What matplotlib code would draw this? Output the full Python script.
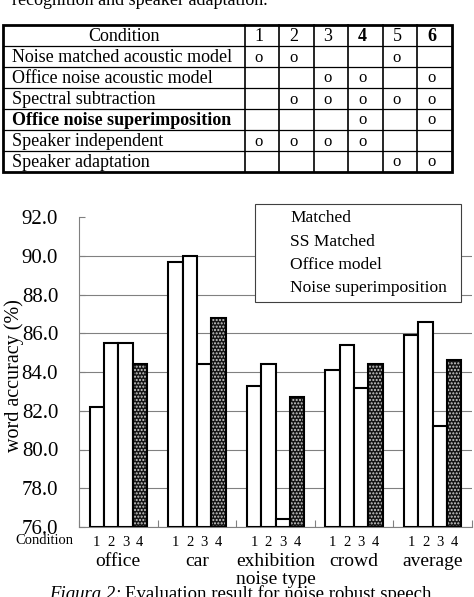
import matplotlib
matplotlib.use("Agg")
import matplotlib.pyplot as plt
from matplotlib.patches import Rectangle
from matplotlib.transforms import blended_transform_factory
import numpy as np

plt.rcParams['font.family'] = ['Liberation Serif', 'DejaVu Serif']

# --- données du gráfico ---
noise_types = ["office", "car", "exhibition", "crowd", "average"]
series_names = ["Matched", "SS Matched", "Office model", "Noise superimposition"]
matched = [82.2, 89.7, 83.3, 84.1, 85.9]
ss_matched = [85.5, 90.0, 84.4, 85.4, 86.6]
office_model = [85.5, 84.4, 76.4, 83.2, 81.2]
noise_superimp = [84.4, 86.8, 82.7, 84.4, 84.6]
condition_labels = ["1", "2", "3", "4"]
y_ticks = [76, 78, 80, 82, 84, 86, 88, 90, 92]

# --- dados da tabela ---
table_header = ["Condition", "1", "2", "3", "4", "5", "6"]
table_rows = ["Noise matched acoustic model",
              "Office noise acoustic model",
              "Spectral subtraction",
              "Office noise superimposition",
              "Speaker independent",
              "Speaker adaptation"]
table_marks = [[1, 1, 0, 0, 1, 0],
               [0, 0, 1, 1, 0, 1],
               [0, 1, 1, 1, 1, 1],
               [0, 0, 0, 1, 0, 1],
               [1, 1, 1, 1, 0, 0],
               [0, 0, 0, 0, 1, 1]]
bold_header = ["4", "6"]
bold_row = "Office noise superimposition"

W, H = 474, 597
fig = plt.figure(figsize=(W / 100, H / 100), dpi=100)

# eixo principal (pixels -> fração)
ax_l, ax_r, ax_t, ax_b = 79, 472, 217, 527
ax = fig.add_axes([ax_l / W, 1 - ax_b / H, (ax_r - ax_l) / W, (ax_b - ax_t) / H])

series = [matched, ss_matched, office_model, noise_superimp]
x = np.arange(len(noise_types))
w = 0.182
for k, vals in enumerate(series):
    pos = x + (k - 1.5) * w
    heights = np.array(vals) - 76
    if k < 3:
        ax.bar(pos, heights, w, bottom=76, facecolor='white', edgecolor='black',
               linewidth=1.5, zorder=3)
    else:
        ax.bar(pos, heights, w, bottom=76, facecolor='#141414', edgecolor='#d0d0d0',
               hatch='.....', linewidth=0, zorder=3)
        ax.bar(pos, heights, w, bottom=76, facecolor='none', edgecolor='black',
               linewidth=1.5, zorder=4)

ax.set_xlim(-0.5, len(noise_types) - 0.5)
ax.set_ylim(76, 92)
ax.set_yticks(y_ticks)
ax.set_yticklabels([f"{v:.1f}" for v in y_ticks], fontsize=15)
ax.tick_params(axis='y', direction='in', length=4.5, color='#808080', pad=15)
ax.set_xticks(np.arange(-0.5, len(noise_types), 1.0))
ax.set_xticklabels([])
ax.tick_params(axis='x', direction='in', length=5, color='#808080')
ax.yaxis.grid(True, color='#808080', linewidth=0.8)
ax.set_axisbelow(True)
ax.get_ygridlines()[-1].set_visible(False)
for s in ['top', 'right']:
    ax.spines[s].set_visible(False)
for s in ['left', 'bottom']:
    ax.spines[s].set_color('#808080')
    ax.spines[s].set_linewidth(0.8)

trans = blended_transform_factory(ax.transData, fig.transFigure)
for i, name in enumerate(noise_types):
    for k, lab in enumerate(condition_labels):
        ax.text(i + (k - 1.5) * w, 1 - 542 / H, lab, transform=trans,
                ha='center', va='center', fontsize=10.5)
    ax.text(i, 1 - 561 / H, name, transform=trans, ha='center', va='center', fontsize=14)

fig.text(44 / W, 1 - 541 / H, "Condition", ha='center', va='center', fontsize=10.5)
fig.text(276 / W, 1 - 579 / H, "noise type", ha='center', va='center', fontsize=14)
fig.text(14 / W, 1 - 376 / H, "word accuracy (%)", rotation=90,
         ha='center', va='center', fontsize=14.5)

# sobreposição em pixels: tabela, legenda, legendas de texto
ov = fig.add_axes([0, 0, 1, 1])
ov.set_xlim(0, W)
ov.set_ylim(H, 0)
ov.axis('off')
ov.patch.set_visible(False)

# legenda
ov.add_patch(Rectangle((255, 204), 206, 98, facecolor='white', edgecolor='#404040',
                       linewidth=0.8, zorder=5))
for j, name in enumerate(series_names):
    ov.text(290, 218 + j * 23.5, name, ha='left', va='center', fontsize=12.5, zorder=6)

# tabela
col_edges = [3, 245, 279, 314, 348, 383, 417, 452]
row_edges = [25, 46, 67, 88, 109, 130, 151, 172]
for yy in row_edges[1:-1]:
    ov.plot([col_edges[0], col_edges[-1]], [yy, yy], color='black', lw=0.9)
for xx in col_edges[1:-1]:
    ov.plot([xx, xx], [row_edges[0], row_edges[-1]], color='black', lw=1.2)
ov.add_patch(Rectangle((col_edges[0], row_edges[0]), col_edges[-1] - col_edges[0],
                       row_edges[-1] - row_edges[0], facecolor='none',
                       edgecolor='black', linewidth=2))

def row_mid(r):
    return (row_edges[r] + row_edges[r + 1]) / 2 + 1

for c, lab in enumerate(table_header):
    cx = (col_edges[c] + col_edges[c + 1]) / 2 - (0 if c == 0 else 3)
    ov.text(cx, row_mid(0), lab, ha='center', va='center', fontsize=13,
            fontweight='bold' if lab in bold_header else 'normal')
for r, lab in enumerate(table_rows):
    ov.text(12, row_mid(r + 1), lab, ha='left', va='center', fontsize=13,
            fontweight='bold' if lab == bold_row else 'normal')
    for c, m in enumerate(table_marks[r]):
        if m:
            cx = (col_edges[c + 1] + col_edges[c + 2]) / 2 - 3
            ov.text(cx, row_mid(r + 1), "o", ha='center', va='center', fontsize=12)

# textos de legenda cortados
ov.text(12, 5, "recognition and speaker adaptation.", ha='left', va='baseline', fontsize=13)
t1 = ov.text(49, 599, "Figura 2:", ha='left', va='baseline', fontsize=13.5, style='italic')
fig.canvas.draw()
bb = t1.get_window_extent().transformed(ov.transData.inverted())
ov.text(bb.x1 + 4, 599, "Evaluation result for noise robust speech", ha='left',
        va='baseline', fontsize=13.5)

fig.savefig("out.png", dpi=100)
